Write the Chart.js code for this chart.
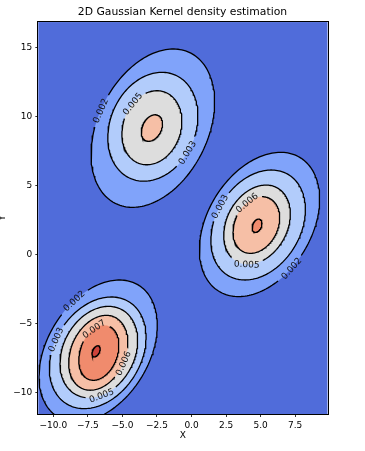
<!DOCTYPE html>
<html><head><meta charset="utf-8">
<script src="https://cdn.jsdelivr.net/npm/chart.js@4/dist/chart.umd.min.js"></script>
<style>html,body{margin:0;padding:0;background:#fff;}#wrap{width:365px;height:451px;position:relative;}</style>
</head><body><div id="wrap"><canvas id="c"></canvas></div>
<script>
// ---------- data ----------
const titleText = '2D Gaussian Kernel density estimation';
const xLabel = 'X';
const yLabel = 'Y';
const xTicks = [-10, -7.5, -5, -2.5, 0, 2.5, 5, 7.5];
const yTicks = [-10, -5, 0, 5, 10, 15];
const xRange = [-11.09, 9.84];
const yRange = [-11.54, 16.83];
const levels = [0, 0.0015, 0.003, 0.0045, 0.006, 0.0075, 0.009, 0.0105];
const levelLabels = ['0.002', '0.003', '0.005', '0.006', '0.007', '0.009'];
const bandColors = ['#506CDA', '#80A3FA', '#B2CCFB', '#DDDDDD', '#F6BFA6', '#F08B6D', '#CE433B'];
// contour rings: [level index, centre x, centre y, half width, half height, tilt]
const topCluster = [
  [1, -2.80, 9.15, 4.47, 5.73, 0.33],
  [2, -2.80, 9.25, 3.26, 3.94, 0.20],
  [3, -2.87, 9.18, 2.17, 2.68, 0.17],
  [4, -2.87, 9.16, 0.77, 0.96, 0.30]
];
const rightCluster = [
  [1, 4.92, 2.18, 4.35, 5.22, 0.35],
  [2, 4.82, 2.14, 3.42, 3.98, 0.28],
  [3, 4.74, 2.16, 2.41, 2.87, 0.27],
  [4, 4.69, 2.14, 1.69, 2.05, 0.25],
  [5, 4.74, 2.09, 0.36, 0.48, 0.30]
];
const bottomLeftCluster = [
  [1, -6.76, -6.98, 4.28, 5.14, 0.36],
  [2, -6.79, -7.11, 3.50, 4.04, 0.28],
  [3, -6.71, -7.06, 2.81, 3.31, 0.25],
  [4, -6.75, -7.11, 2.14, 2.71, 0.27],
  [5, -6.71, -7.11, 1.45, 1.99, 0.27],
  [6, -6.91, -7.00, 0.30, 0.40, 0.40]
];
// inline contour labels: [cluster, level index, approx x, approx y]
const contourLabels = [
  ['top', 1, -6.62, 10.53], ['top', 3, -4.21, 10.90], ['top', 2, -0.34, 7.40],
  ['right', 2, 1.93, 3.47], ['right', 4, 4.01, 3.71], ['right', 3, 4.01, -0.70], ['right', 1, 7.51, -1.35],
  ['bottomLeft', 1, -8.60, -3.19], ['bottomLeft', 2, -9.81, -6.09], ['bottomLeft', 5, -7.09, -5.38],
  ['bottomLeft', 4, -5.46, -7.63], ['bottomLeft', 3, -6.55, -10.07]
];

// ---------- build ----------
const FONT = 'DejaVu Sans';
Chart.defaults.font.family = FONT;
Chart.defaults.color = '#000';
const clusters = {top: topCluster, right: rightCluster, bottomLeft: bottomLeftCluster};
const N = 180;
function ringPoints(r) {
  const [lvl, cx, cy, hw, hh, rho] = r;
  const s = Math.sqrt(1 - rho * rho);
  const pts = [];
  for (let k = 0; k < N; k++) {
    const t = 2 * Math.PI * k / N;
    pts.push({x: cx + hw * Math.cos(t), y: cy + hh * (rho * Math.cos(t) + s * Math.sin(t))});
  }
  return pts;
}
const datasets = [];
const lineEntries = [];
Object.keys(clusters).forEach(key => {
  clusters[key].forEach(r => {
    const lvl = r[0];
    const pts = ringPoints(r);
    datasets.push({
      data: pts.concat([pts[0]]), showLine: true, fill: 'shape',
      backgroundColor: bandColors[lvl], borderWidth: 0, borderColor: 'rgba(0,0,0,0)',
      pointRadius: 0, pointHoverRadius: 0, order: 100 - lvl
    });
    const ds = {
      data: pts.concat([pts[0]]), showLine: true, fill: false,
      borderColor: '#000', borderWidth: 1.3, pointRadius: 0, pointHoverRadius: 0, order: 0
    };
    datasets.push(ds);
    lineEntries.push({key, level: lvl, points: pts, dataset: ds});
  });
});
const fmt = (v, d) => (v < 0 ? '\u2212' : '') + Math.abs(v).toFixed(d);
const placements = [];
const LABEL_FONT = '9px "' + FONT + '"';

const bgPlugin = {
  id: 'bg',
  beforeDatasetsDraw(chart) {
    const a = chart.chartArea, c = chart.ctx;
    c.save(); c.fillStyle = bandColors[0];
    c.fillRect(a.left, a.top, a.right - a.left, a.bottom - a.top);
    c.restore();
  },
  afterDatasetsDraw(chart) {
    const c = chart.ctx, xs = chart.scales.x, ys = chart.scales.y;
    c.save();
    c.font = LABEL_FONT; c.fillStyle = '#111'; c.textAlign = 'center'; c.textBaseline = 'middle';
    placements.forEach(p => {
      c.save();
      c.translate(xs.getPixelForValue(p.x), ys.getPixelForValue(p.y));
      c.rotate(p.ang);
      c.fillText(p.text, 0, 0.5);
      c.restore();
    });
    const a = chart.chartArea;
    c.strokeStyle = '#000'; c.lineWidth = 1;
    const l = Math.round(a.left) - 0.5, t = Math.round(a.top) - 0.5;
    const r = Math.round(a.right) + 0.5, b = Math.round(a.bottom) + 0.5;
    c.strokeRect(l, t, r - l, b - t);
    c.restore();
  }
};

const chart = new Chart(document.getElementById('c'), {
  type: 'scatter',
  data: {datasets},
  plugins: [bgPlugin],
  options: {
    responsive: true, maintainAspectRatio: false, animation: false, events: [],
    layout: {padding: 0},
    plugins: {
      legend: {display: false}, tooltip: {enabled: false},
      title: {display: true, text: titleText, color: '#000',
        font: {family: FONT, size: 10.8, weight: 'normal', lineHeight: 1.2},
        padding: {top: 5.5, bottom: 3.6}}
    },
    scales: {
      x: {
        type: 'linear', min: xRange[0], max: xRange[1],
        afterBuildTicks: s => { s.ticks = xTicks.map(v => ({value: v})); },
        afterFit: s => { s.height = 37; },
        ticks: {callback: v => fmt(v, 1), font: {size: 9}, color: '#000', padding: 3, autoSkip: false, maxRotation: 0},
        grid: {drawOnChartArea: false, drawTicks: true, tickLength: 3, color: '#000', lineWidth: 0.8},
        border: {display: false},
        title: {display: true, text: xLabel, color: '#000', font: {size: 9, lineHeight: 1.2}, padding: {top: 0, bottom: 9.6}}
      },
      y: {
        type: 'linear', min: yRange[0], max: yRange[1],
        afterBuildTicks: s => { s.ticks = yTicks.map(v => ({value: v})); },
        afterFit: s => { s.width = 38.3; },
        ticks: {callback: v => fmt(v, 0), font: {size: 9}, color: '#000', padding: 3, autoSkip: false},
        grid: {drawOnChartArea: false, drawTicks: true, tickLength: 3, color: '#000', lineWidth: 0.8},
        border: {display: false},
        title: {display: true, text: yLabel, color: '#000', font: {size: 9, lineHeight: 1}, padding: {top: -1.5, bottom: 0}}
      },
      yRight: {
        type: 'linear', position: 'right', min: yRange[0], max: yRange[1], display: true,
        afterFit: s => { s.width = 37.5; },
        ticks: {display: false}, grid: {display: false}, border: {display: false}
      }
    }
  }
});

function applyLabels() {
  const xs = chart.scales.x, ys = chart.scales.y;
  const m = chart.ctx;
  m.save(); m.font = LABEL_FONT;
  placements.length = 0;
  contourLabels.forEach(([key, lvl, lx, ly]) => {
    const entry = lineEntries.find(e => e.key === key && e.level === lvl);
    if (!entry) return;
    const pts = entry.points, n = pts.length;
    const px = pts.map(p => [xs.getPixelForValue(p.x), ys.getPixelForValue(p.y)]);
    const ax = xs.getPixelForValue(lx), ay = ys.getPixelForValue(ly);
    let i0 = 0, best = Infinity;
    px.forEach((q, i) => { const d = (q[0] - ax) ** 2 + (q[1] - ay) ** 2; if (d < best) { best = d; i0 = i; } });
    const text = levelLabels[lvl - 1];
    const half = m.measureText(text).width / 2 + 3;
    const c = px[i0];
    const idx = i => ((i % n) + n) % n;
    const dist = i => Math.hypot(px[idx(i)][0] - c[0], px[idx(i)][1] - c[1]);
    let f = i0; while (dist(f) < half && f < i0 + n) f++;
    let b = i0; while (dist(b) < half && b > i0 - n) b--;
    const data = [];
    for (let i = f; i <= b + n; i++) data.push(pts[idx(i)]);
    entry.dataset.data = data;
    const p1 = px[idx(i0 - 2)], p2 = px[idx(i0 + 2)];
    let ang = Math.atan2(p2[1] - p1[1], p2[0] - p1[0]);
    if (ang > Math.PI / 2) ang -= Math.PI;
    if (ang < -Math.PI / 2) ang += Math.PI;
    placements.push({x: pts[i0].x, y: pts[i0].y, ang, text});
  });
  m.restore();
  chart.update('none');
}
applyLabels();
</script>
</body></html>
